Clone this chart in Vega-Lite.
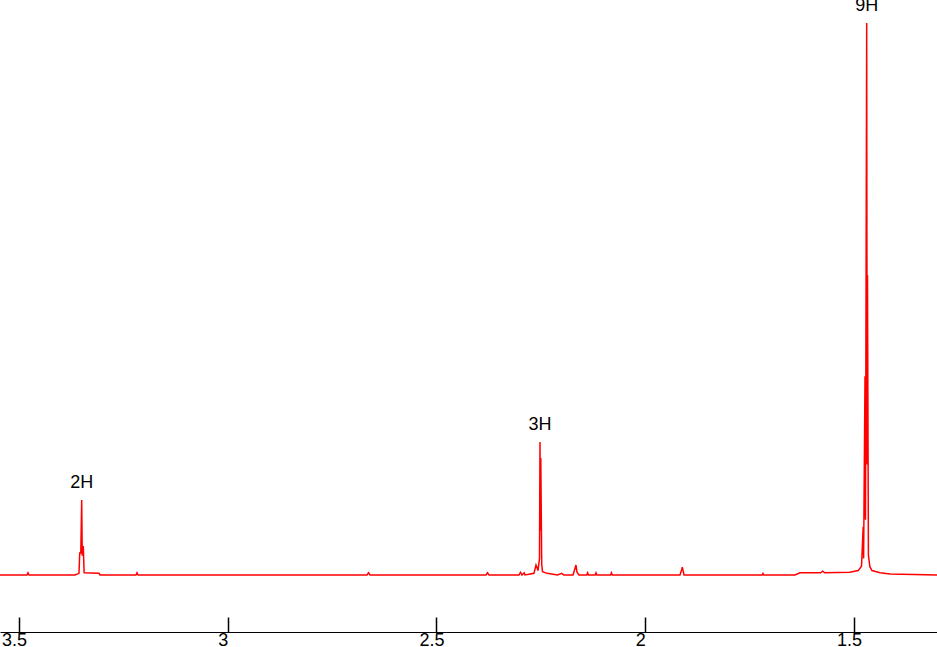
{
  "$schema": "https://vega.github.io/schema/vega-lite/v6.json",
  "width": 937,
  "height": 632,
  "autosize": {"type": "none"},
  "padding": {"left": 0, "top": 0, "right": 0, "bottom": 15},
  "config": {"view": {"stroke": null}, "font": "Liberation Sans"},
  "datasets": {
    "spectrum": [
      {"ppm": 3.5455, "v": 0},
      {"ppm": 3.4808, "v": 0},
      {"ppm": 3.4784, "v": 0.4},
      {"ppm": 3.4760, "v": 0},
      {"ppm": 3.3659, "v": 0},
      {"ppm": 3.3563, "v": 0.3},
      {"ppm": 3.3545, "v": 4.0},
      {"ppm": 3.3520, "v": 4.0},
      {"ppm": 3.3498, "v": 13.6},
      {"ppm": 3.3485, "v": 3.5},
      {"ppm": 3.3479, "v": 5.1},
      {"ppm": 3.3460, "v": 5.1},
      {"ppm": 3.3440, "v": 0.4},
      {"ppm": 3.3084, "v": 0.3},
      {"ppm": 3.3060, "v": 0},
      {"ppm": 3.2198, "v": 0},
      {"ppm": 3.2174, "v": 0.4},
      {"ppm": 3.2150, "v": 0},
      {"ppm": 2.6665, "v": 0},
      {"ppm": 2.6629, "v": 0.4},
      {"ppm": 2.6593, "v": 0},
      {"ppm": 2.3814, "v": 0},
      {"ppm": 2.3778, "v": 0.4},
      {"ppm": 2.3742, "v": 0},
      {"ppm": 2.3024, "v": 0},
      {"ppm": 2.2988, "v": 0.5},
      {"ppm": 2.2952, "v": 0},
      {"ppm": 2.2900, "v": 0.4},
      {"ppm": 2.2880, "v": 0},
      {"ppm": 2.2665, "v": 0.3},
      {"ppm": 2.2617, "v": 1.8},
      {"ppm": 2.2569, "v": 0.8},
      {"ppm": 2.2533, "v": 3.0},
      {"ppm": 2.2521, "v": 24.1},
      {"ppm": 2.2512, "v": 8.0},
      {"ppm": 2.2502, "v": 21.2},
      {"ppm": 2.2480, "v": 2.0},
      {"ppm": 2.2461, "v": 0.6},
      {"ppm": 2.2353, "v": 0.3},
      {"ppm": 2.2100, "v": 0},
      {"ppm": 2.2000, "v": 0.3},
      {"ppm": 2.1950, "v": 0},
      {"ppm": 2.1731, "v": 0},
      {"ppm": 2.1690, "v": 1.0},
      {"ppm": 2.1659, "v": 1.8},
      {"ppm": 2.1635, "v": 0.5},
      {"ppm": 2.1587, "v": 0},
      {"ppm": 2.1400, "v": 0},
      {"ppm": 2.1380, "v": 0.4},
      {"ppm": 2.1360, "v": 0},
      {"ppm": 2.1200, "v": 0},
      {"ppm": 2.1180, "v": 0.4},
      {"ppm": 2.1160, "v": 0},
      {"ppm": 2.0830, "v": 0},
      {"ppm": 2.0810, "v": 0.4},
      {"ppm": 2.0790, "v": 0},
      {"ppm": 1.9168, "v": 0},
      {"ppm": 1.9130, "v": 0.9},
      {"ppm": 1.9113, "v": 1.4},
      {"ppm": 1.9090, "v": 0.7},
      {"ppm": 1.9072, "v": 0},
      {"ppm": 1.7200, "v": 0},
      {"ppm": 1.7180, "v": 0.3},
      {"ppm": 1.7160, "v": 0},
      {"ppm": 1.6413, "v": 0},
      {"ppm": 1.6293, "v": 0.4},
      {"ppm": 1.5800, "v": 0.4},
      {"ppm": 1.5750, "v": 0.7},
      {"ppm": 1.5700, "v": 0.4},
      {"ppm": 1.5100, "v": 0.5},
      {"ppm": 1.4900, "v": 0.8},
      {"ppm": 1.4820, "v": 1.6},
      {"ppm": 1.4780, "v": 8.75},
      {"ppm": 1.4770, "v": 3.0},
      {"ppm": 1.4736, "v": 36.0},
      {"ppm": 1.4725, "v": 10.0},
      {"ppm": 1.4696, "v": 100},
      {"ppm": 1.4685, "v": 20.0},
      {"ppm": 1.4677, "v": 54.3},
      {"ppm": 1.4655, "v": 3.6},
      {"ppm": 1.4620, "v": 1.5},
      {"ppm": 1.4569, "v": 0.8},
      {"ppm": 1.4377, "v": 0.4},
      {"ppm": 1.4137, "v": 0.2},
      {"ppm": 1.3012, "v": 0}
    ],
    "labels": [
      {"ppm": 3.3498, "v": 13.6, "label": "2H"},
      {"ppm": 2.2521, "v": 24.1, "label": "3H"},
      {"ppm": 1.4696, "v": 100, "label": "9H"}
    ]
  },
  "layer": [
    {
      "data": {"name": "spectrum"},
      "mark": {"type": "line", "color": "#ff0000", "strokeWidth": 1.5, "interpolate": "linear"},
      "encoding": {
        "x": {
          "field": "ppm",
          "type": "quantitative",
          "scale": {"domain": [3.5455, 1.3012], "nice": false, "zero": false},
          "axis": {
            "title": null,
            "values": [3.5, 3, 2.5, 2, 1.5],
            "grid": false,
            "domainColor": "#000000",
            "domainWidth": 1.2,
            "tickColor": "#000000",
            "tickWidth": 1.5,
            "tickSize": -15,
            "labelColor": "#000000",
            "labelFontSize": 18,
            "labelFont": "Liberation Sans",
            "labelBaseline": "top",
            "labelPadding": 14,
            "labelOffset": -5,
            "labelFlush": false,
            "labelOverlap": false,
            "format": "~g"
          }
        },
        "y": {
          "field": "v",
          "type": "quantitative",
          "scale": {"domain": [-10.326, 104.167], "nice": false, "zero": false},
          "axis": null
        }
      }
    },
    {
      "data": {"name": "labels"},
      "mark": {"type": "text", "baseline": "bottom", "align": "center", "dy": -8, "fontSize": 18, "font": "Liberation Sans", "color": "#000000"},
      "encoding": {
        "x": {"field": "ppm", "type": "quantitative"},
        "y": {"field": "v", "type": "quantitative"},
        "text": {"field": "label", "type": "nominal"}
      }
    }
  ]
}
